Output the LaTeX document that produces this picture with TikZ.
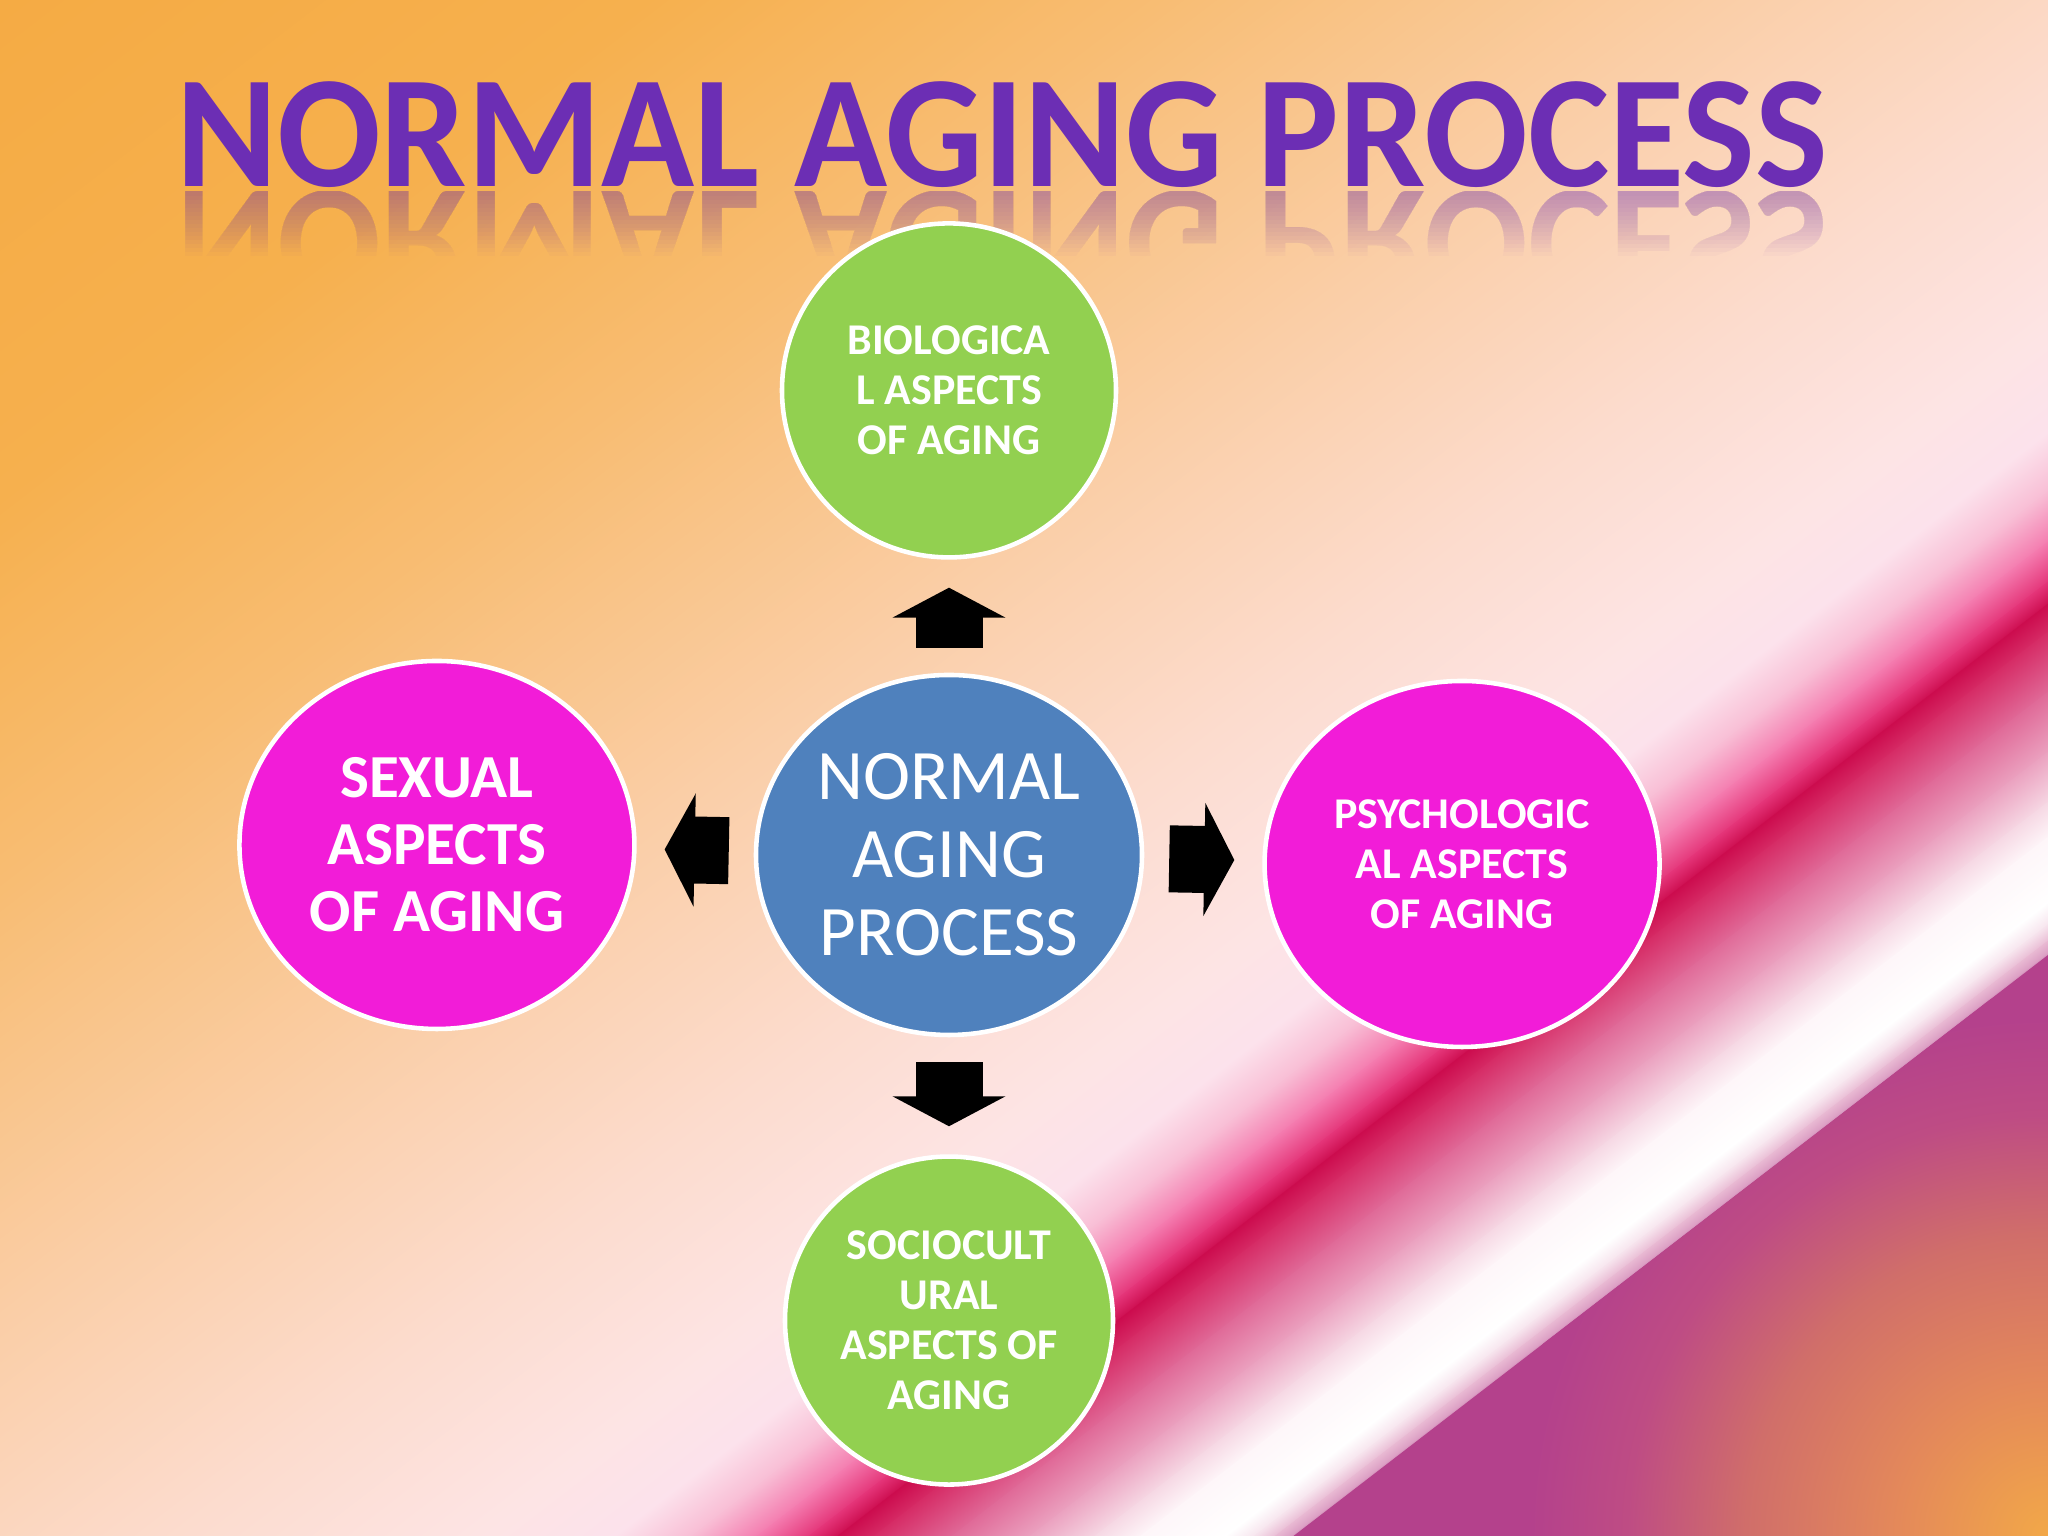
\documentclass[tikz,border=0pt]{standalone}
\usepackage{fontspec}
\setmainfont{Carlito}
\usetikzlibrary{positioning,calc,arrows.meta,shapes.geometric}

\definecolor{aspectgreen}{HTML}{92D050}
\definecolor{aspectpink}{HTML}{F21CD8}
\definecolor{hubblue}{HTML}{4F81BD}
\definecolor{titlepurple}{HTML}{6C2EB4}

\definecolor{bgA}{HTML}{F5AB44}
\definecolor{bgB}{HTML}{F6B04E}
\definecolor{bgC}{HTML}{F8BD74}
\definecolor{bgD}{HTML}{FACDA4}
\definecolor{bgE}{HTML}{FCDBCC}
\definecolor{bgF}{HTML}{FDE4E4}
\definecolor{bgG}{HTML}{FCE2EC}
\definecolor{bgH}{HTML}{F8BCD4}
\definecolor{bgI}{HTML}{F47AAE}
\definecolor{bgJ}{HTML}{E43478}
\definecolor{bgK}{HTML}{CC0C4E}
\definecolor{bgL}{HTML}{D62C66}
\definecolor{bgM}{HTML}{E06A98}
\definecolor{bgN}{HTML}{EBA2C0}
\definecolor{bgO}{HTML}{F6D8E4}
\definecolor{bgP}{HTML}{FEF6F9}
\definecolor{bgQ}{HTML}{FFFFFF}
\definecolor{bgR}{HTML}{F6E2EC}
\definecolor{bgS}{HTML}{E8B8D2}
\definecolor{bgT}{HTML}{D898C0}

\definecolor{glowA}{HTML}{F2A848}
\definecolor{glowB}{HTML}{E4895A}
\definecolor{glowC}{HTML}{D06E6A}
\definecolor{glowD}{HTML}{BE4C84}
\definecolor{glowE}{HTML}{B4418C}

\pgfdeclareradialshading{cornerglow}{\pgfpoint{0bp}{0bp}}{color(0bp)=(glowA); color(7bp)=(glowB); color(14bp)=(glowC); color(19.5bp)=(glowD); color(24bp)=(glowE); color(50bp)=(glowE)}

\newcommand{\smallfont}{\fontsize{12.5}{14.2}\selectfont\bfseries}

\begin{document}
\begin{tikzpicture}[
        aspect/.style={
            ellipse,
            draw=white,
            line width=1.3pt,
            inner sep=0pt,
            text=white,
            align=center
        },
        titletext/.style={
            anchor=base,
            inner sep=0pt,
            xscale=0.96,
            text=titlepurple,
            font=\fontsize{45.5}{45.5}\selectfont\bfseries
        },
        blockarrow/.style={
            black,
            line width=0.67cm,
            shorten <=0.25cm,
            shorten >=0.28cm,
            -{Triangle[length=0.30cm, width=1.12cm]}
        }
    ]
        \useasboundingbox (0,0) rectangle (20.48,15.36);

        \begin{scope}
            \clip (0,0) rectangle (20.48,15.36);
            \begin{scope}[transform canvas={shift={(0,15.36)}, rotate=37.6}]
                \foreach \ca/\cb/\ka/\kb in {0/500/bgA/bgB, 500/900/bgB/bgC, 900/1300/bgC/bgD,
                        1300/1650/bgD/bgE, 1650/1900/bgE/bgF, 1900/2010/bgF/bgG, 2010/2070/bgG/bgH,
                        2070/2120/bgH/bgI, 2120/2160/bgI/bgJ, 2160/2182/bgJ/bgK, 2182/2210/bgK/bgL,
                        2210/2270/bgL/bgM, 2270/2330/bgM/bgN, 2330/2380/bgN/bgO, 2380/2415/bgO/bgP,
                        2415/2480/bgP/bgQ, 2480/2503/bgQ/bgR, 2503/2519/bgR/bgS, 2519/2532/bgS/bgT,
                        2532/3300/bgT/bgT}
                    \shade[top color=\ka, bottom color=\kb] (-10,-\ca/126.2+0.01) rectangle (17,-\cb/126.2-0.01);
            \end{scope}
            \begin{scope}
                \clip (12.935,0) -- (20.48,0) -- (20.48,5.81) -- cycle;
                \fill[glowE] (12.9,0) rectangle (20.48,6);
                \shade[shading=cornerglow] (20.48,0) circle (5.4);
            \end{scope}
        \end{scope}

        \node[titletext] (title) at (10.02,13.49) {NORMAL AGING PROCESS};
        \foreach \k in {1,...,16} {
            \begin{scope}
                \clip (0,13.44) rectangle (20.48,{13.44-\k*0.04});
                \node[titletext, yscale=-1, opacity=0.028] (mirror\k) at (10.02,13.44) {NORMAL AGING PROCESS};
            \end{scope}
        }

        \node[aspect, fill=hubblue, minimum width=3.86cm, minimum height=3.6cm,
              font=\fontsize{20.2}{22.2}\selectfont]                    (centre) at (9.49,6.81)               {NORMAL\\AGING\\PROCESS};
        \node[aspect, fill=aspectgreen, minimum size=3.34cm, font=\smallfont] (bio)    [above=1.13cm of centre]              {BIOLOGICA\\L ASPECTS\\OF AGING};
        \node[aspect, fill=aspectgreen, minimum size=3.28cm, font=\smallfont] (socio)  [below=1.17cm of centre]              {SOCIOCULT\\URAL\\ASPECTS OF\\AGING};
        \node[aspect, fill=aspectpink, minimum width=3.95cm, minimum height=3.68cm,
              font=\fontsize{17.4}{19.1}\selectfont\bfseries]            (sexual) [left=1.17cm of centre, yshift=1mm]  {SEXUAL\\ASPECTS\\OF AGING};
        \node[aspect, fill=aspectpink, minimum width=3.95cm, minimum height=3.66cm,
              font=\smallfont]                                           (psych)  [right=1.18cm of centre, yshift=-0.9mm] {PSYCHOLOGIC\\AL ASPECTS\\OF AGING};

        \draw[blockarrow] (centre) -- (bio);
        \draw[blockarrow] (centre) -- (psych);
        \draw[blockarrow] (centre) -- (socio);
        \draw[blockarrow] (centre) -- (sexual);
    \end{tikzpicture}
\end{document}
